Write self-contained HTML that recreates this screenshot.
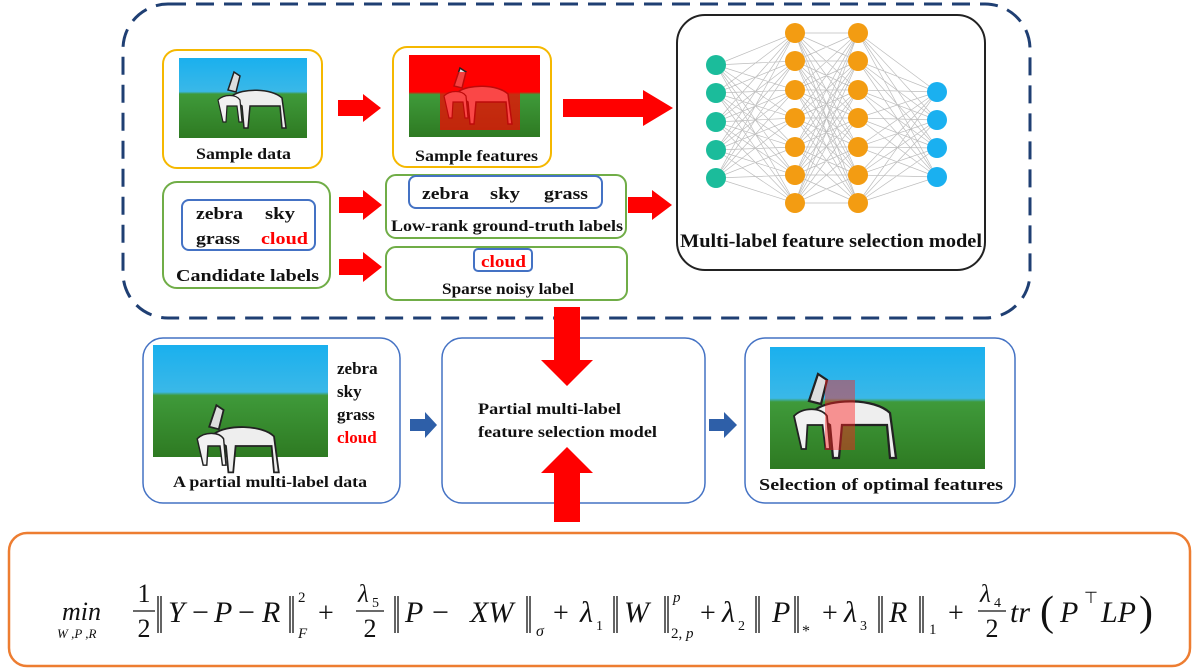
<!DOCTYPE html>
<html><head><meta charset="utf-8"><style>
html,body{margin:0;padding:0;background:#fff;}
svg{display:block;}
text{font-family:"Liberation Serif",serif;font-weight:bold;fill:#111;}
.m{font-family:"Liberation Serif",serif;font-style:italic;font-weight:normal;fill:#111;}
.n{font-family:"Liberation Serif",serif;font-weight:normal;fill:#111;}
</style></head><body>
<svg width="1200" height="670" viewBox="0 0 1200 670" xmlns="http://www.w3.org/2000/svg">
<defs>
<linearGradient id="sky" x1="0" y1="0" x2="0" y2="1">
<stop offset="0" stop-color="#1ab0ee"/><stop offset="0.42" stop-color="#3ab8e8"/><stop offset="0.45" stop-color="#3f9a3a"/><stop offset="1" stop-color="#2e7a22"/></linearGradient>
<linearGradient id="red" x1="0" y1="0" x2="0" y2="1">
<stop offset="0" stop-color="#ff0000"/><stop offset="0.45" stop-color="#ff0000"/><stop offset="0.48" stop-color="#3f9a3a"/><stop offset="1" stop-color="#2e7a22"/></linearGradient>
<g id="zeb">
<path d="M0,0 c10,-8 40,-8 50,2 l4,30 h-4 l-2,-22 h-30 l-2,22 h-4 l-2,-22 c-6,-4 -10,-8 -10,-10 z" fill="#eee" stroke="#222" stroke-width="1.5"/>
<path d="M-4,-6 l6,-18 l6,4 l-4,16 z" fill="#ddd" stroke="#222" stroke-width="1.5"/>
<path d="M-14,4 c6,-6 18,-6 22,0 l2,22 h-3 l-2,-16 h-10 l-1,16 h-3 z" fill="#f2f2f2" stroke="#222" stroke-width="1.2"/>
</g>
</defs>

<rect x="123" y="4" width="907" height="314" rx="45" fill="none" stroke="#1f3f73" stroke-width="3" stroke-dasharray="18,10"/>

<rect x="163" y="50" width="159" height="118" rx="14" fill="#fff" stroke="#f5b800" stroke-width="2"/>
<rect x="179" y="58" width="128" height="80" fill="url(#sky)"/>
<use href="#zeb" x="232" y="96"/>
<text x="196" y="159" font-size="16" textLength="95" lengthAdjust="spacingAndGlyphs">Sample data</text>

<rect x="393" y="47" width="158" height="120" rx="14" fill="#fff" stroke="#f5b800" stroke-width="2"/>
<rect x="409" y="55" width="131" height="82" fill="url(#red)"/>
<use href="#zeb" x="458" y="92"/>
<rect x="440" y="72" width="80" height="58" fill="#ff0000" opacity="0.7"/>
<text x="415" y="161" font-size="16" textLength="123" lengthAdjust="spacingAndGlyphs">Sample features</text>

<rect x="163" y="182" width="167" height="106" rx="14" fill="#fff" stroke="#70ad47" stroke-width="2"/>
<rect x="182" y="200" width="133" height="50" rx="7" fill="none" stroke="#4472c4" stroke-width="2"/>
<text x="196" y="219" font-size="17" textLength="47" lengthAdjust="spacingAndGlyphs">zebra</text><text x="265" y="219" font-size="17" textLength="30" lengthAdjust="spacingAndGlyphs">sky</text>
<text x="196" y="244" font-size="17" textLength="44" lengthAdjust="spacingAndGlyphs">grass</text><text x="261" y="244" font-size="17" textLength="47" lengthAdjust="spacingAndGlyphs" style="fill:#ff0000">cloud</text>
<text x="176" y="281" font-size="17" textLength="143" lengthAdjust="spacingAndGlyphs">Candidate labels</text>

<rect x="386" y="175" width="240" height="63" rx="10" fill="#fff" stroke="#70ad47" stroke-width="2"/>
<rect x="409" y="176" width="193" height="32" rx="7" fill="none" stroke="#4472c4" stroke-width="2"/>
<text x="422" y="199" font-size="17" textLength="47" lengthAdjust="spacingAndGlyphs">zebra</text><text x="490" y="199" font-size="17" textLength="30" lengthAdjust="spacingAndGlyphs">sky</text><text x="544" y="199" font-size="17" textLength="44" lengthAdjust="spacingAndGlyphs">grass</text>
<text x="391" y="231" font-size="16" textLength="232" lengthAdjust="spacingAndGlyphs">Low-rank ground-truth labels</text>

<rect x="386" y="247" width="241" height="53" rx="10" fill="#fff" stroke="#70ad47" stroke-width="2"/>
<rect x="474" y="249" width="58" height="22" rx="4" fill="none" stroke="#4472c4" stroke-width="2"/>
<text x="481" y="267" font-size="17" textLength="45" lengthAdjust="spacingAndGlyphs" style="fill:#ff0000">cloud</text>
<text x="442" y="294" font-size="16" textLength="132" lengthAdjust="spacingAndGlyphs">Sparse noisy label</text>

<g fill="#ff0000">
<polygon points="338,100 363,100 363,94 381,108 363,122 363,116 338,116"/>
<polygon points="563,99 643,99 643,90 673,108 643,126 643,117 563,117"/>
<polygon points="339,197 363,197 363,190 382,205 363,220 363,213 339,213"/>
<polygon points="339,259 363,259 363,252 382,267 363,282 363,275 339,275"/>
<polygon points="628,197 652,197 652,190 672,205 652,220 652,213 628,213"/>
</g>

<rect x="677" y="15" width="308" height="255" rx="28" fill="#fff" stroke="#222" stroke-width="2"/>
<text x="680" y="247" font-size="19" textLength="302" lengthAdjust="spacingAndGlyphs">Multi-label feature selection model</text>

<rect x="143" y="338" width="257" height="165" rx="20" fill="#fff" stroke="#4472c4" stroke-width="1.5"/>
<rect x="153" y="345" width="175" height="112" fill="url(#sky)"/>
<use href="#zeb" transform="translate(-50,-40) scale(1.2)" x="220" y="395"/>
<text x="337" y="374" font-size="17">zebra</text>
<text x="337" y="397" font-size="17">sky</text>
<text x="337" y="420" font-size="17">grass</text>
<text x="337" y="443" font-size="17" style="fill:#ff0000">cloud</text>
<text x="173" y="487" font-size="16" textLength="194" lengthAdjust="spacingAndGlyphs">A partial multi-label data</text>

<rect x="442" y="338" width="263" height="165" rx="20" fill="#fff" stroke="#4472c4" stroke-width="1.5"/>
<text x="478" y="414" font-size="16" textLength="143" lengthAdjust="spacingAndGlyphs">Partial multi-label</text>
<text x="478" y="437" font-size="16" textLength="179" lengthAdjust="spacingAndGlyphs">feature selection model</text>

<rect x="745" y="338" width="270" height="165" rx="20" fill="#fff" stroke="#4472c4" stroke-width="1.5"/>
<rect x="770" y="347" width="215" height="122" fill="url(#sky)"/>
<use href="#zeb" transform="translate(815,410) scale(1.5)"/>
<rect x="825" y="380" width="30" height="70" fill="#ff2020" opacity="0.45"/>
<text x="759" y="490" font-size="17" textLength="244" lengthAdjust="spacingAndGlyphs">Selection of optimal features</text>

<g fill="#2e5fa8">
<polygon points="410,419 425,419 425,412 437,425 425,438 425,431 410,431"/>
<polygon points="709,419 724,419 724,412 737,425 724,438 724,431 709,431"/>
</g>
<g fill="#ff0000">
<polygon points="554,307 580,307 580,360 593,360 567,386 541,360 554,360"/>
<polygon points="554,522 580,522 580,473 593,473 567,447 541,473 554,473"/>
</g>

<rect x="9" y="533" width="1181" height="133" rx="18" fill="#fff" stroke="#ed7d31" stroke-width="2.5"/>
<g>
<text class="m" x="62" y="620" font-size="26">min</text>
<text class="m" x="57" y="638" font-size="13">W ,P ,R</text>
<text class="n" x="144" y="602" font-size="26" text-anchor="middle">1</text><text class="n" x="144" y="637" font-size="26" text-anchor="middle">2</text>
<text class="n" x="370" y="637" font-size="26" text-anchor="middle">2</text>
<text class="n" x="992" y="637" font-size="26" text-anchor="middle">2</text>
<line x1="133" y1="611" x2="155" y2="611" stroke="#111" stroke-width="1.3"/>
<line x1="356" y1="611" x2="384" y2="611" stroke="#111" stroke-width="1.3"/>
<line x1="978" y1="611" x2="1006" y2="611" stroke="#111" stroke-width="1.3"/>
<text class="m" x="358" y="602" font-size="25">λ</text><text class="n" x="372" y="607" font-size="14">5</text>
<text class="m" x="980" y="602" font-size="25">λ</text><text class="n" x="994" y="607" font-size="14">4</text>
<g stroke="#111" stroke-width="1.3">
<path d="M158,596V633M161,596V633 M290,596V633M293,596V633
M395,596V633M398,596V633 M527,596V633M530,596V633
M614,596V633M617,596V633 M665,596V633M668,596V633
M756,596V633M759,596V633 M795,596V633M798,596V633
M879,596V633M882,596V633 M920,596V633M923,596V633"/>
</g>
<text class="m" x="168" y="622" font-size="30">Y</text>
<text class="n" x="192" y="622" font-size="30">−</text>
<text class="m" x="214" y="622" font-size="30">P</text>
<text class="n" x="238" y="622" font-size="30">−</text>
<text class="m" x="262" y="622" font-size="30">R</text>
<text class="n" x="298" y="602" font-size="15">2</text><text class="m" x="298" y="638" font-size="15">F</text>
<text class="n" x="318" y="622" font-size="28">+</text>
<text class="m" x="405" y="622" font-size="30">P</text>
<text class="n" x="432" y="622" font-size="30">−</text>
<text class="m" x="470" y="622" font-size="30">XW</text>
<text class="m" x="536" y="636" font-size="16">σ</text>
<text class="n" x="553" y="622" font-size="28">+</text>
<text class="m" x="580" y="622" font-size="30">λ</text><text class="n" x="596" y="630" font-size="14">1</text>
<text class="m" x="624" y="622" font-size="30">W</text>
<text class="m" x="673" y="602" font-size="15">p</text><text class="n" x="671" y="638" font-size="15">2, </text><text class="m" x="686" y="638" font-size="15">p</text>
<text class="n" x="700" y="622" font-size="28">+</text>
<text class="m" x="722" y="622" font-size="30">λ</text><text class="n" x="738" y="630" font-size="14">2</text>
<text class="m" x="772" y="622" font-size="30">P</text>
<text class="n" x="802" y="636" font-size="16">*</text>
<text class="n" x="822" y="622" font-size="28">+</text>
<text class="m" x="844" y="622" font-size="30">λ</text><text class="n" x="860" y="630" font-size="14">3</text>
<text class="m" x="889" y="622" font-size="30">R</text>
<text class="n" x="929" y="634" font-size="15">1</text>
<text class="n" x="948" y="622" font-size="28">+</text>
<text class="m" x="1010" y="622" font-size="30">tr</text>
<text class="n" x="1040" y="625" font-size="42">(</text>
<text class="m" x="1060" y="622" font-size="30">P</text><text class="n" x="1084" y="603" font-size="16">⊤</text>
<text class="m" x="1101" y="622" font-size="30">LP</text>
<text class="n" x="1139" y="625" font-size="42">)</text>
</g>

<g stroke="#bdbdbd" stroke-width="0.7">
<path d="
M716,65L795,33M716,65L795,61M716,65L795,90M716,65L795,118M716,65L795,147M716,65L795,175M716,65L795,203
M716,93L795,33M716,93L795,61M716,93L795,90M716,93L795,118M716,93L795,147M716,93L795,175M716,93L795,203
M716,122L795,33M716,122L795,61M716,122L795,90M716,122L795,118M716,122L795,147M716,122L795,175M716,122L795,203
M716,150L795,33M716,150L795,61M716,150L795,90M716,150L795,118M716,150L795,147M716,150L795,175M716,150L795,203
M716,178L795,33M716,178L795,61M716,178L795,90M716,178L795,118M716,178L795,147M716,178L795,175M716,178L795,203
M795,33L858,33M795,33L858,61M795,33L858,90M795,33L858,118M795,33L858,147M795,33L858,175M795,33L858,203
M795,61L858,33M795,61L858,61M795,61L858,90M795,61L858,118M795,61L858,147M795,61L858,175M795,61L858,203
M795,90L858,33M795,90L858,61M795,90L858,90M795,90L858,118M795,90L858,147M795,90L858,175M795,90L858,203
M795,118L858,33M795,118L858,61M795,118L858,90M795,118L858,118M795,118L858,147M795,118L858,175M795,118L858,203
M795,147L858,33M795,147L858,61M795,147L858,90M795,147L858,118M795,147L858,147M795,147L858,175M795,147L858,203
M795,175L858,33M795,175L858,61M795,175L858,90M795,175L858,118M795,175L858,147M795,175L858,175M795,175L858,203
M795,203L858,33M795,203L858,61M795,203L858,90M795,203L858,118M795,203L858,147M795,203L858,175M795,203L858,203
M858,33L937,92M858,33L937,120M858,33L937,148M858,33L937,177
M858,61L937,92M858,61L937,120M858,61L937,148M858,61L937,177
M858,90L937,92M858,90L937,120M858,90L937,148M858,90L937,177
M858,118L937,92M858,118L937,120M858,118L937,148M858,118L937,177
M858,147L937,92M858,147L937,120M858,147L937,148M858,147L937,177
M858,175L937,92M858,175L937,120M858,175L937,148M858,175L937,177
M858,203L937,92M858,203L937,120M858,203L937,148M858,203L937,177" fill="none"/>
</g>
<g fill="#1bbc9b">
<circle cx="716" cy="65" r="10"/><circle cx="716" cy="93" r="10"/><circle cx="716" cy="122" r="10"/><circle cx="716" cy="150" r="10"/><circle cx="716" cy="178" r="10"/>
</g>
<g fill="#f39c12">
<circle cx="795" cy="33" r="10"/><circle cx="795" cy="61" r="10"/><circle cx="795" cy="90" r="10"/><circle cx="795" cy="118" r="10"/><circle cx="795" cy="147" r="10"/><circle cx="795" cy="175" r="10"/><circle cx="795" cy="203" r="10"/>
<circle cx="858" cy="33" r="10"/><circle cx="858" cy="61" r="10"/><circle cx="858" cy="90" r="10"/><circle cx="858" cy="118" r="10"/><circle cx="858" cy="147" r="10"/><circle cx="858" cy="175" r="10"/><circle cx="858" cy="203" r="10"/>
</g>
<g fill="#1ab0f0">
<circle cx="937" cy="92" r="10"/><circle cx="937" cy="120" r="10"/><circle cx="937" cy="148" r="10"/><circle cx="937" cy="177" r="10"/>
</g>
</svg>
</body></html>
